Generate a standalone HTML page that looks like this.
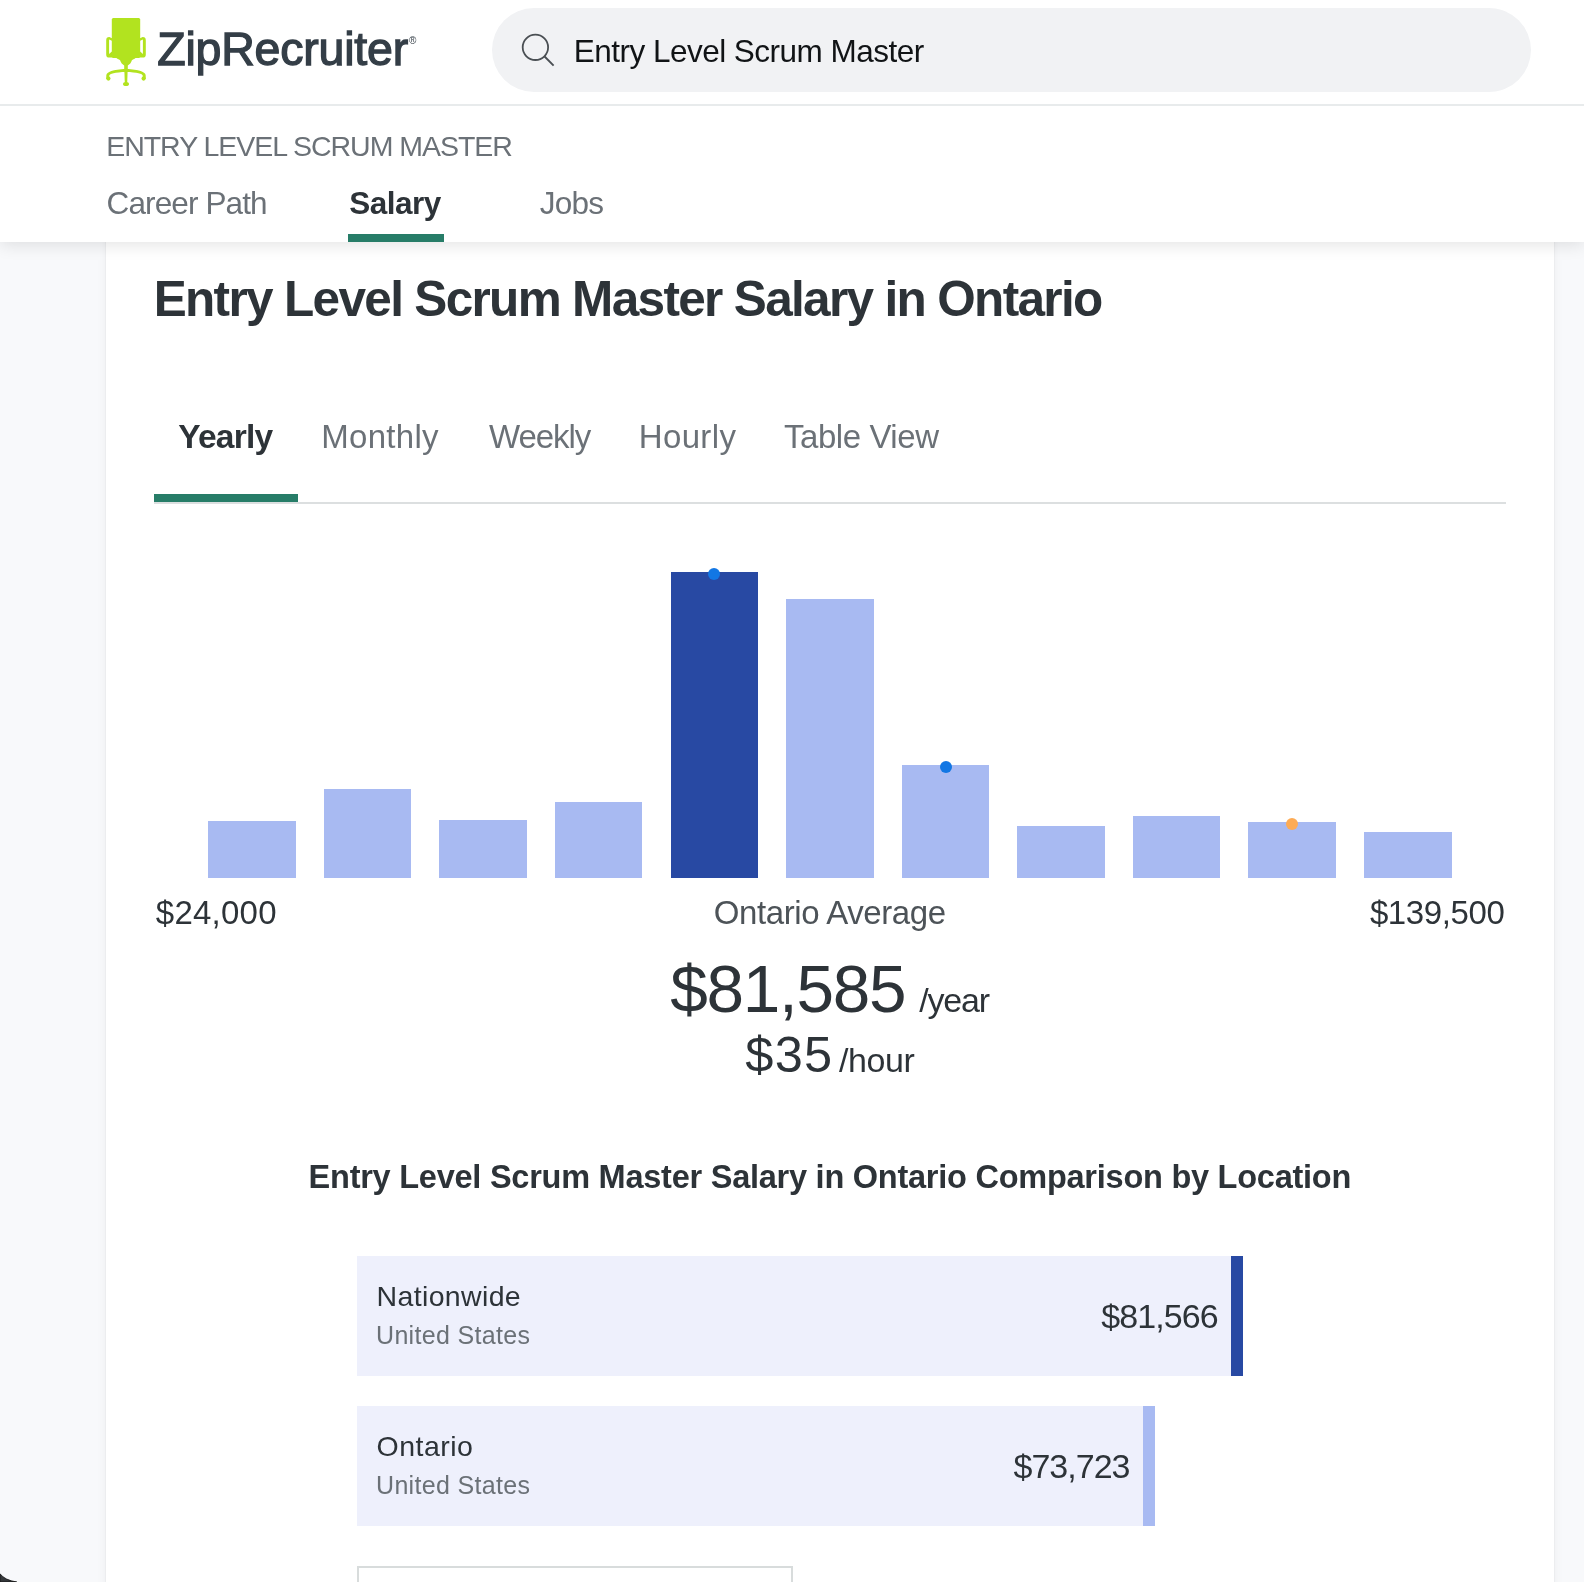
<!DOCTYPE html>
<html><head><meta charset="utf-8"><title>Entry Level Scrum Master Salary in Ontario</title>
<style>
*{box-sizing:border-box;margin:0;padding:0}
html,body{width:1584px;height:1582px;overflow:hidden;background:#f8f9fb;font-family:"Liberation Sans",Arial,sans-serif;color:#2d3338}
.a{position:absolute;white-space:nowrap;line-height:1}
#hdr{position:absolute;left:0;top:0;width:1584px;height:106px;background:#fff;border-bottom:2px solid #e8ebec;z-index:5}
#sub{position:absolute;left:0;top:106px;width:1584px;height:136px;background:#fff;box-shadow:0 3px 16px rgba(0,0,0,.11);z-index:4}
#card{position:absolute;left:106px;top:200px;width:1448px;height:1500px;background:#fff;box-shadow:0 0 2px rgba(0,0,0,.09),0 0 10px rgba(0,0,0,.06)}
.search{position:absolute;left:492px;top:8px;width:1039px;height:84px;border-radius:42px;background:#f1f2f4}
.bar{position:absolute;width:87.6px}
.dot{position:absolute;width:12px;height:12px;border-radius:50%}
.cmp{position:absolute;left:357px;height:120px;background:#eef0fc}
</style></head><body>
<div id="wrap" style="position:absolute;left:0;top:0;width:1584px;height:1582px;will-change:transform">
<header id="hdr">
<svg class="a" style="left:100px;top:12px" width="52" height="78" viewBox="0 0 52 78">
<g fill="#b2e31f" stroke="none">
<path d="M6.2,28.2 Q6.2,24.9 9.4,25 L12,26.2 L40,26.2 L42.6,25 Q45.8,24.9 45.8,28.2 L45.8,42.4 Q45.8,45.6 42.6,45.6 L9.4,45.6 Q6.2,45.6 6.2,42.4 Z"/>
<rect x="11.8" y="5.9" width="28.4" height="40" rx="1.6"/>
<path d="M15.8,45 L36.2,45 Q35.5,46.8 33,47.4 Q31.6,47.8 31.4,49.5 Q31,51.5 27.8,53.4 L24.2,53.4 Q21,51.5 20.6,49.5 Q20.4,47.8 19,47.4 Q16.5,46.8 15.8,45 Z"/>
<rect x="24.2" y="52" width="3.6" height="6"/>
<path d="M24.3,57 L27.7,57 L27.2,71 L24.8,71 Z"/>
<ellipse cx="26" cy="72" rx="3" ry="2"/>
<circle cx="8.4" cy="66.6" r="2.1"/><circle cx="43.6" cy="66.6" r="2.1"/>
</g>
<g fill="#fff"><path d="M9.1,27.5 L11.8,28.7 L11.8,39.4 L9.1,42.1 Z"/><path d="M42.9,27.5 L40.2,28.7 L40.2,39.4 L42.9,42.1 Z"/></g>
<path d="M7.8,67 L7.8,63.5 Q8,59.5 26,58.3 Q44,59.5 44.2,63.5 L44.2,67" fill="none" stroke="#b2e31f" stroke-width="3"/>
</svg>
<div class="search"></div>
<svg class="a" style="left:515px;top:28px" width="45" height="42" viewBox="515 28 45 42">
<circle cx="535.4" cy="47.3" r="12.7" fill="none" stroke="#4a4f53" stroke-width="1.8"/>
<line x1="544.6" y1="56.5" x2="553.6" y2="65.6" stroke="#4a4f53" stroke-width="1.9" stroke-linecap="butt"/>
</svg>
<div class="a" style="left:157.2px;top:26.2px;font-size:46.5px;letter-spacing:-0.2px;color:#343e47;-webkit-text-stroke:1.3px #343e47">ZipRecruiter</div>
<div class="a" style="left:409px;top:35.5px;font-size:10px;color:#343e47">&#174;</div>
<div class="a" style="left:573.8px;top:36.2px;font-size:31.5px;letter-spacing:-0.522px;font-weight:400;color:#111416;">Entry Level Scrum Master</div>
</header>
<div id="sub">
<div class="a" style="left:348px;top:127.5px;width:96px;height:8.5px;background:#277d68"></div>
</div>
<div class="a" style="z-index:6;left:0;top:0;width:0;height:0">
<div class="a" style="left:106.2px;top:131.9px;font-size:28.5px;letter-spacing:-1.022px;font-weight:400;color:#6b7177;">ENTRY LEVEL SCRUM MASTER</div>
<div class="a" style="left:106.6px;top:187.8px;font-size:31.5px;letter-spacing:-0.88px;font-weight:400;color:#6b7177;">Career Path</div>
<div class="a" style="left:349.3px;top:188px;font-size:31.5px;letter-spacing:-0.5px;font-weight:700;color:#2d3338;">Salary</div>
<div class="a" style="left:539.7px;top:188px;font-size:31.5px;letter-spacing:-0.767px;font-weight:400;color:#6b7177;">Jobs</div>
</div>
<div id="card"></div>
<h1 class="a" style="left:153.7px;top:273.8px;font-size:49.5px;letter-spacing:-1.666px;font-weight:700;color:#2d3338;">Entry Level Scrum Master Salary in Ontario</h1>

<div class="a" style="left:154px;top:502px;width:1352px;height:2px;background:#dcdfe0"></div>
<div class="a" style="left:154px;top:493.5px;width:144px;height:8.5px;background:#277d68"></div>
<div class="a" style="left:178.2px;top:420px;font-size:33.5px;letter-spacing:-0.76px;font-weight:700;color:#2d3338;">Yearly</div>
<div class="a" style="left:321.3px;top:420px;font-size:33.0px;letter-spacing:0.283px;font-weight:400;color:#6b7177;">Monthly</div>
<div class="a" style="left:489px;top:420px;font-size:33.0px;letter-spacing:-1.06px;font-weight:400;color:#6b7177;">Weekly</div>
<div class="a" style="left:638.7px;top:420px;font-size:33.0px;letter-spacing:0.38px;font-weight:400;color:#6b7177;">Hourly</div>
<div class="a" style="left:784px;top:420px;font-size:33.0px;letter-spacing:-0.444px;font-weight:400;color:#6b7177;">Table View</div>

<div class="bar" style="left:208.1px;top:820.8px;height:57.2px;background:#a8baf2"></div>
<div class="bar" style="left:323.7px;top:788.6px;height:89.4px;background:#a8baf2"></div>
<div class="bar" style="left:439.3px;top:819.8px;height:58.2px;background:#a8baf2"></div>
<div class="bar" style="left:554.9px;top:801.8px;height:76.2px;background:#a8baf2"></div>
<div class="bar" style="left:670.5px;top:571.7px;height:306.3px;background:#2849a3"></div>
<div class="bar" style="left:786.1px;top:598.7px;height:279.3px;background:#a8baf2"></div>
<div class="bar" style="left:901.6px;top:765.0px;height:113.0px;background:#a8baf2"></div>
<div class="bar" style="left:1017.2px;top:826.0px;height:52.0px;background:#a8baf2"></div>
<div class="bar" style="left:1132.8px;top:816.0px;height:62.0px;background:#a8baf2"></div>
<div class="bar" style="left:1248.4px;top:822.0px;height:56.0px;background:#a8baf2"></div>
<div class="bar" style="left:1364.0px;top:832.0px;height:46.0px;background:#a8baf2"></div>
<div class="dot" style="left:707.9px;top:567.9px;background:#1277e4"></div>
<div class="dot" style="left:940.1px;top:761.0px;background:#1277e4"></div>
<div class="dot" style="left:1286.1px;top:818.1px;background:#fdab55"></div>

<div class="a" style="left:155.8px;top:895.9px;font-size:33.0px;letter-spacing:0.233px;font-weight:400;color:#2d3338;">$24,000</div>
<div class="a" style="left:713.8px;top:895.9px;font-size:33.0px;letter-spacing:-0.4px;font-weight:400;color:#4d5358;">Ontario Average</div>
<div class="a" style="left:1369.9px;top:895.8px;font-size:33.0px;letter-spacing:-0.4px;font-weight:400;color:#2d3338;">$139,500</div>
<div class="a" style="left:670.2px;top:955.2px;font-size:67.5px;letter-spacing:-1.267px;font-weight:400;color:#2d3338;">$81,585</div>
<div class="a" style="left:919.3px;top:983.2px;font-size:34px;letter-spacing:-1.2px;font-weight:400;color:#2d3338;">/year</div>
<div class="a" style="left:745.3px;top:1029.8px;font-size:50.5px;letter-spacing:1.25px;font-weight:400;color:#2d3338;">$35</div>
<div class="a" style="left:839.1px;top:1042.8px;font-size:34px;letter-spacing:-0.425px;font-weight:400;color:#2d3338;">/hour</div>

<h2 class="a" style="left:308.6px;top:1160.8px;font-size:32.5px;letter-spacing:-0.244px;font-weight:700;color:#2d3338;">Entry Level Scrum Master Salary in Ontario Comparison by Location</h2>

<div class="cmp" style="top:1256px;width:886px"></div>
<div class="a" style="left:1231px;top:1256px;width:12px;height:120px;background:#2849a3"></div>
<div class="cmp" style="top:1406px;width:798px"></div>
<div class="a" style="left:1143px;top:1406px;width:12px;height:120px;background:#a8baf2"></div>
<div class="a" style="left:376.6px;top:1281.8px;font-size:28.5px;letter-spacing:0.344px;font-weight:400;color:#2d3338;">Nationwide</div>
<div class="a" style="left:376px;top:1323.1px;font-size:25.0px;letter-spacing:0.333px;font-weight:400;color:#6b7177;">United States</div>
<div class="a" style="left:1101.3px;top:1299.2px;font-size:34.0px;letter-spacing:-0.917px;font-weight:400;color:#2d3338;">$81,566</div>
<div class="a" style="left:376.5px;top:1431.8px;font-size:28.5px;letter-spacing:0.483px;font-weight:400;color:#2d3338;">Ontario</div>
<div class="a" style="left:376px;top:1473.1px;font-size:25.0px;letter-spacing:0.333px;font-weight:400;color:#6b7177;">United States</div>
<div class="a" style="left:1013.5px;top:1449.2px;font-size:34.0px;letter-spacing:-0.983px;font-weight:400;color:#2d3338;">$73,723</div>

<div class="a" style="left:357px;top:1566px;width:436px;height:40px;border:2px solid #d8dcdc;background:#fff"></div>
<svg class="a" style="left:0;top:1562px;z-index:9" width="20" height="20" viewBox="0 0 20 20"><path d="M0,11.8 Q5,18.3 16.8,20 L0,20 Z" fill="#34383a" stroke="#111" stroke-width="0.8"/></svg>
</div>
</body></html>
